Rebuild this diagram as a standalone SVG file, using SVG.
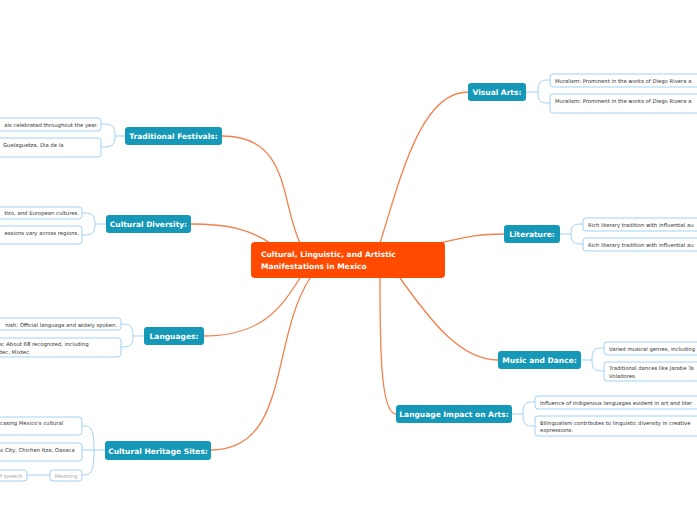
<svg xmlns="http://www.w3.org/2000/svg" width="697" height="520" viewBox="0 0 697 520">
<style>
.t{fill:#1699b8;}
.tt{fill:#fff;font:bold 7.5px "DejaVu Sans",sans-serif;}
.l{fill:#fff;stroke:#9fd2f5;stroke-width:1;}
.lt{fill:#333;font:5.3px "DejaVu Sans",sans-serif;}
.g{fill:#aaa;font:5.3px "DejaVu Sans",sans-serif;}
.o{fill:none;stroke:#f4804e;stroke-width:1.3;}
.b{fill:none;stroke:#9fd2f5;stroke-width:1;}
</style>
<rect width="697" height="520" fill="#fff"/>
<g id="connectors">
<path class="o" d="M300 243 C280 200,290 136,222 136"/>
<path class="o" d="M270 243 C250 230,230 224,191 224"/>
<path class="o" d="M300 278 C280 310,260 336,204 336"/>
<path class="o" d="M310 278 C270 340,290 450,211 450"/>
<path class="o" d="M380 243 C400 180,420 92,468 92"/>
<path class="o" d="M440 243 C470 236,480 234,504 234"/>
<path class="o" d="M400 278 C430 320,460 360,498 360"/>
<path class="o" d="M380 278 C380 340,380 414,396 414"/>
<path class="b" d="M125 136 H115 M115 136 C115 124,110 124,101 124 M115 136 C115 147,110 147,101 147"/>
<path class="b" d="M106 224 H95 M95 224 C95 213,90 213,82 213 M95 224 C95 235,90 235,82 235"/>
<path class="b" d="M144 336 H133 M133 336 C133 324,128 324,121 324 M133 336 C133 347,128 347,121 347"/>
<path class="b" d="M105 450 H94 M94 450 C94 426,90 426,82 426 M94 450 H82 M94 450 C94 475,90 475,82 475 M50 475 H27"/>
<path class="b" d="M526 92 H538 M538 92 C538 80,542 80,550 80 M538 92 C538 103,542 103,550 103"/>
<path class="b" d="M560 234 H571 M571 234 C571 224,575 224,583 224 M571 234 C571 244,575 244,583 244"/>
<path class="b" d="M581 360 H592 M592 360 C592 348,596 348,604 348 M592 360 C592 371,596 371,604 371"/>
<path class="b" d="M512 414 H523 M523 414 C523 402,527 402,535 402 M523 414 C523 426,527 426,535 426"/>
</g>
<g id="center"><rect x="251" y="242" width="194" height="36" rx="4" fill="#ff4a00"/>
<text class="tt" x="261" y="257" font-size="8.5">Cultural, Linguistic, and Artistic</text>
<text class="tt" x="261" y="269" font-size="8.5">Manifestations in Mexico</text></g>
<g id="festivals"><rect class="t" x="125" y="127" width="97" height="18" rx="3"/><text class="tt" x="173.5" y="139" text-anchor="middle">Traditional Festivals:</text>
<rect class="l" x="-5" y="118" width="106" height="13" rx="3"/><text class="lt" x="98" y="126.5" text-anchor="end">als celebrated throughout the year.</text>
<rect class="l" x="-5" y="138" width="106" height="19" rx="3"/><text class="lt" x="3" y="146.5">Guelaguetza, Dia de la</text></g>
<g id="diversity"><rect class="t" x="106" y="215" width="85" height="18" rx="3"/><text class="tt" x="148.5" y="227" text-anchor="middle">Cultural Diversity:</text>
<rect class="l" x="-5" y="207" width="87" height="12" rx="3"/><text class="lt" x="79" y="215" text-anchor="end">tizo, and European cultures.</text>
<rect class="l" x="-5" y="226" width="87" height="18" rx="3"/><text class="lt" x="79" y="234.5" text-anchor="end">essions vary across regions.</text></g>
<g id="languages"><rect class="t" x="144" y="327" width="60" height="18" rx="3"/><text class="tt" x="174" y="339" text-anchor="middle">Languages:</text>
<rect class="l" x="-5" y="318" width="126" height="12" rx="3"/><text class="lt" x="117" y="326.5" text-anchor="end">nish: Official language and widely spoken.</text>
<rect class="l" x="-5" y="338" width="126" height="19" rx="3"/><text class="lt" x="0" y="346">s: About 68 recognized, including</text><text class="lt" x="0" y="353.5">tec, Mixtec.</text></g>
<g id="heritage"><rect class="t" x="105" y="441" width="106" height="19" rx="3"/><text class="tt" x="158" y="453.5" text-anchor="middle">Cultural Heritage Sites:</text>
<rect class="l" x="-5" y="417" width="87" height="18" rx="3"/><text class="lt" x="0" y="425">casing Mexico's cultural</text>
<rect class="l" x="-5" y="443" width="87" height="18" rx="3"/><text class="lt" x="0" y="451.5">o City, Chichen Itza, Oaxaca</text>
<rect class="l" x="50" y="470" width="32" height="11" rx="3"/><text class="g" x="66" y="477.5" text-anchor="middle">Meaning</text>
<rect class="l" x="-5" y="470" width="32" height="11" rx="3"/><text class="g" x="0" y="477.5">f speech</text></g>
<g id="visual"><rect class="t" x="468" y="83" width="58" height="18" rx="3"/><text class="tt" x="497" y="95" text-anchor="middle">Visual Arts:</text>
<rect class="l" x="550" y="74" width="160" height="13" rx="3"/><text class="lt" x="555" y="82.5">Muralism: Prominent in the works of Diego Rivera a</text>
<rect class="l" x="550" y="94" width="160" height="19" rx="3"/><text class="lt" x="555" y="102.5">Muralism: Prominent in the works of Diego Rivera a</text></g>
<g id="literature"><rect class="t" x="504" y="225" width="56" height="18" rx="3"/><text class="tt" x="532" y="237" text-anchor="middle">Literature:</text>
<rect class="l" x="583" y="218" width="130" height="13" rx="3"/><text class="lt" x="588" y="226.5">Rich literary tradition with influential au</text>
<rect class="l" x="583" y="238" width="130" height="13" rx="3"/><text class="lt" x="588" y="246.5">Rich literary tradition with influential au</text></g>
<g id="music"><rect class="t" x="498" y="351" width="83" height="18" rx="3"/><text class="tt" x="539.5" y="363" text-anchor="middle">Music and Dance:</text>
<rect class="l" x="604" y="342" width="110" height="13" rx="3"/><text class="lt" x="609" y="350.5">Varied musical genres, including</text>
<rect class="l" x="604" y="362" width="110" height="19" rx="3"/><text class="lt" x="609" y="370">Traditional dances like Jarabe Ta</text><text class="lt" x="609" y="377.5">Voladores.</text></g>
<g id="impact"><rect class="t" x="396" y="405" width="116" height="18" rx="3"/><text class="tt" x="454" y="417" text-anchor="middle">Language Impact on Arts:</text>
<rect class="l" x="535" y="396" width="175" height="13" rx="3"/><text class="lt" x="540" y="404.5">Influence of indigenous languages evident in art and liter</text>
<rect class="l" x="535" y="416" width="175" height="20" rx="3"/><text class="lt" x="540" y="424.5">Bilingualism contributes to linguistic diversity in creative</text><text class="lt" x="540" y="432">expressions.</text></g>
</svg>
